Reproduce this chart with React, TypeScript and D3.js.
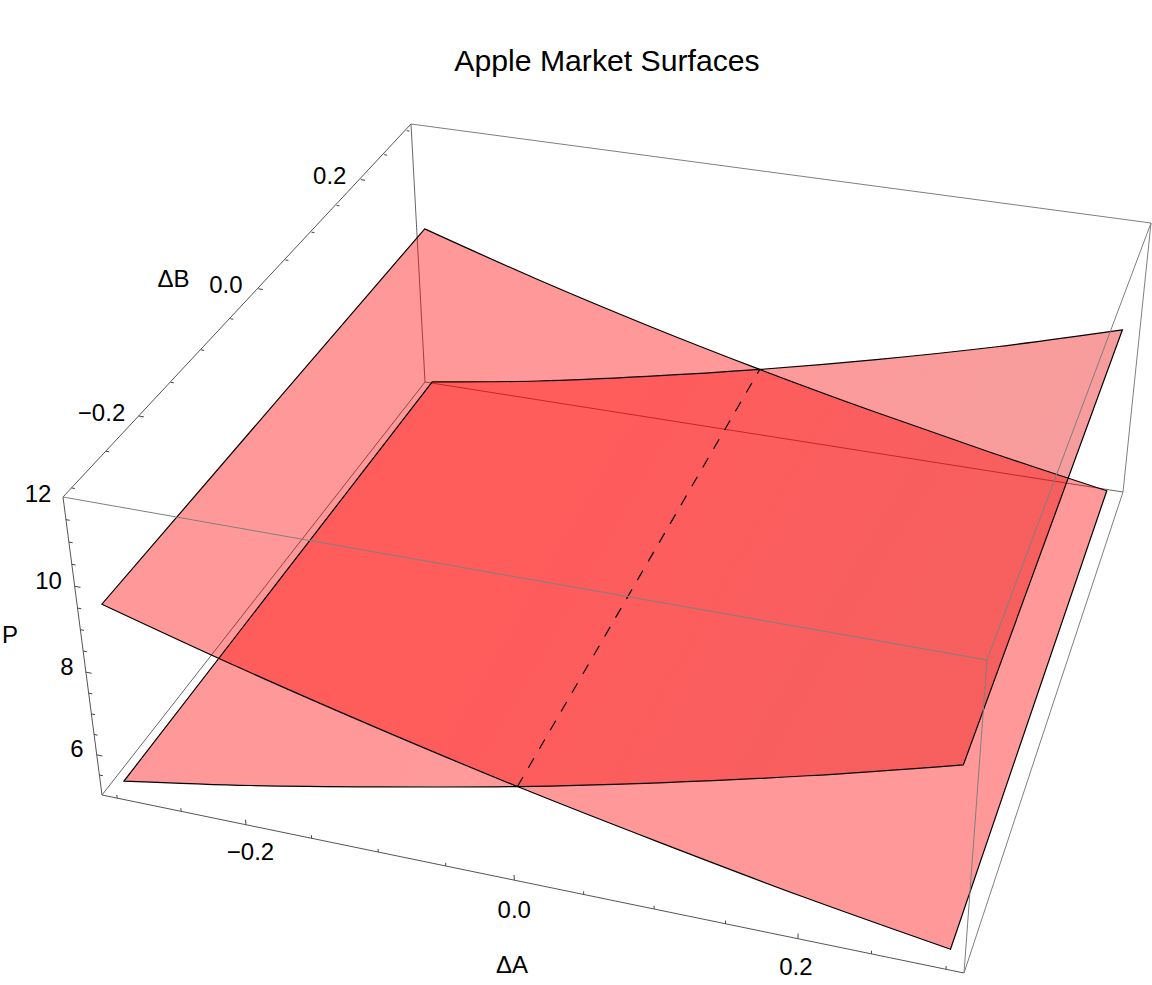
import React from "react";
import * as d3 from "d3";

const title = "Apple Market Surfaces";
// Surface samples: price read at each change in A, along the front (dB = -0.3) and back (dB = +0.3) edges.
const deltaASamples = [-0.3, -0.2, -0.1, 0, 0.1, 0.2, 0.3];
const deltaBEdges = [-0.3, 0.3];
const demandFront = [9.44, 8.55, 7.74, 7.0, 6.34, 5.73, 5.2];
const demandBack = [9.47, 8.56, 7.74, 7.0, 6.33, 5.72, 5.17];
const supplyFront = [5.18, 5.72, 6.34, 7.0, 7.74, 8.55, 9.44];
const supplyBack = [5.24, 5.74, 6.34, 7.0, 7.73, 8.53, 9.42];
const equilibriumPrice = 7.0;

const abMajorTicks = [-0.2, 0, 0.2];
const abMinorTicks = [-0.3, -0.25, -0.15, -0.1, -0.05, 0.05, 0.1, 0.15, 0.25, 0.3];
const pMajorTicks = [6, 8, 10, 12];
const pMinorTicks = [5.5, 6.5, 7, 7.5, 8.5, 9, 9.5, 10.5, 11, 11.5];

const domainAB: [number, number] = [-0.312, 0.312];
const domainP: [number, number] = [5, 12];

// Pixel positions of the bounding box corners, fixing the perspective camera.
const c000 = [102, 795];
const c100 = [964, 973];
const c010 = [425, 382];
const c110 = [1123, 492];
const c001 = [63, 497];
const c101 = [987, 660];
const c011 = [411, 124];
const c111 = [1151, 223];

function perspectiveTerms(p0: number[], p1: number[], p2: number[], p3: number[]) {
  const dx1 = p1[0] - p2[0], dx2 = p3[0] - p2[0], sx = p0[0] - p1[0] + p2[0] - p3[0];
  const dy1 = p1[1] - p2[1], dy2 = p3[1] - p2[1], sy = p0[1] - p1[1] + p2[1] - p3[1];
  const den = dx1 * dy2 - dx2 * dy1;
  return [(sx * dy2 - dx2 * sy) / den, (dx1 * sy - sx * dy1) / den];
}
const [ka, kb] = perspectiveTerms(c000, c100, c110, c010);
const [, kc] = perspectiveTerms(c000, c100, c101, c001);

const scaleU = d3.scaleLinear().domain(domainAB).range([0, 1]);
const scaleV = d3.scaleLinear().domain(domainAB).range([0, 1]);
const scaleW = d3.scaleLinear().domain(domainP).range([0, 1]);

function unitProject(u: number, v: number, w: number): [number, number] {
  const d = 1 + ka * u + kb * v + kc * w;
  const f = (i: number) =>
    (c000[i] +
      u * (c100[i] * (1 + ka) - c000[i]) +
      v * (c010[i] * (1 + kb) - c000[i]) +
      w * (c001[i] * (1 + kc) - c000[i])) / d;
  return [f(0), f(1)];
}
const project = (a: number, b: number, p: number) => unitProject(scaleU(a), scaleV(b), scaleW(p));

const lineGen = d3.line<[number, number]>().curve(d3.curveCatmullRom.alpha(0.5));
const straight = d3.line<[number, number]>();

const edgePts = (b: number, vals: number[]) => deltaASamples.map((a, i) => project(a, b, vals[i]));

function surfacePath(front: number[], back: number[]) {
  const f = lineGen(edgePts(deltaBEdges[0], front))!;
  const bk = lineGen(edgePts(deltaBEdges[1], back).reverse())!;
  return f + "L" + bk.slice(1) + "Z";
}

const demandPath = surfacePath(demandFront, demandBack);
const supplyPath = surfacePath(supplyFront, supplyBack);

const GRAY = "#7f7f7f";
const FILL = "#ff0000";
const font = "'Liberation Sans', Arial, sans-serif";

const uTick = (u: number, v: number, w: number, du: number) =>
  straight([unitProject(u, v, w), unitProject(u + du, v, w)])!;
const wTick = (u: number, v: number, w: number, dw: number) =>
  straight([unitProject(u, v, w), unitProject(u, v, w + dw)])!;

const labelShiftA: Record<string, [number, number]> = { "-0.2": [4.5, 35], "0": [0, 38], "0.2": [-2, 36] };
const labelShiftB: Record<string, [number, number]> = { "-0.2": [-37.4, 5], "0": [-32.4, 4.3], "0.2": [-31, 4.4] };

const fmt = (v: number) => (v < 0 ? "\u2212" : "") + Math.abs(v).toFixed(1);

export default function App() {
  const edge = (a: number[], b: number[], key: string, col = GRAY) => (
    <path key={key} d={straight([a as [number, number], b as [number, number]])!} stroke={col} strokeWidth={1} fill="none" />
  );
  const rearEdges = [
    edge(c000, c010, "e1", "#666"),
    edge(c010, c110, "e2", "#666"),
    edge(c100, c110, "e3"),
    edge(c010, c011, "e4", "#666"),
  ];
  const frontEdges = [
    edge(c000, c100, "f1", "#555"),
    edge(c000, c001, "f2", "#555"),
    edge(c001, c011, "f3", "#555"),
    edge(c001, c101, "f4"),
    edge(c011, c111, "f5"),
    edge(c101, c111, "f6"),
    edge(c100, c101, "f7"),
    edge(c110, c111, "f8"),
  ];
  const tickStroke = "#444";
  const ticks: React.ReactNode[] = [];
  abMajorTicks.forEach((t) => {
    ticks.push(<path key={"am" + t} d={wTick(scaleU(t), 0, 0, 0.018)} stroke={tickStroke} fill="none" />);
    ticks.push(<path key={"bm" + t} d={uTick(0, scaleV(t), 1, 0.006)} stroke={tickStroke} fill="none" />);
  });
  abMinorTicks.forEach((t) => {
    ticks.push(<path key={"an" + t} d={wTick(scaleU(t), 0, 0, 0.011)} stroke={tickStroke} fill="none" />);
    ticks.push(<path key={"bn" + t} d={uTick(0, scaleV(t), 1, 0.004)} stroke={tickStroke} fill="none" />);
  });
  pMajorTicks.filter((t) => t < 12).forEach((t) => {
    ticks.push(<path key={"pm" + t} d={uTick(0, 0, scaleW(t), 0.007)} stroke={tickStroke} fill="none" />);
  });
  pMinorTicks.forEach((t) => {
    ticks.push(<path key={"pn" + t} d={uTick(0, 0, scaleW(t), 0.0045)} stroke={tickStroke} fill="none" />);
  });

  const [dx0, dy0] = project(0, deltaBEdges[0], equilibriumPrice);
  const [dx1, dy1] = project(0, deltaBEdges[1], equilibriumPrice);

  const textProps = { fontFamily: font, fontSize: 24, fill: "#000" };
  return (
    <svg width={1152} height={985} style={{ position: "absolute", left: 0, top: 0, background: "#fff" }}>
      <defs>
        <linearGradient id="shade" gradientUnits="userSpaceOnUse" x1={560} y1={480} x2={908} y2={680}>
          <stop offset="0" stopColor="#ff0000" />
          <stop offset="1" stopColor="#ec0808" />
        </linearGradient>
      </defs>
      {rearEdges}
      <path d={demandPath} fill={FILL} fillOpacity={0.4} />
      <path d={supplyPath} fill="url(#shade)" fillOpacity={0.4} />
      <path d={demandPath} fill="none" stroke="#000" strokeWidth={1.2} />
      <path d={supplyPath} fill="none" stroke="#000" strokeWidth={1.2} />
      <line x1={dx0} y1={dy0} x2={dx1} y2={dy1} stroke="#000" strokeWidth={1.2} strokeDasharray="11 10.7" />
      {frontEdges}
      {ticks}
      <text x={607} y={71} textAnchor="middle" fontFamily={font} fontSize={30.2} fill="#000">{title}</text>
      {abMajorTicks.map((t) => {
        const [x, y] = unitProject(scaleU(t), 0, 0);
        const s = labelShiftA[String(t)];
        return <text key={"la" + t} x={x + s[0]} y={y + s[1]} textAnchor="middle" {...textProps}>{fmt(t)}</text>;
      })}
      {abMajorTicks.map((t) => {
        const [x, y] = unitProject(0, scaleV(t), 1);
        const s = labelShiftB[String(t)];
        return <text key={"lb" + t} x={x + s[0]} y={y + s[1]} textAnchor="middle" {...textProps}>{fmt(t)}</text>;
      })}
      <text x={38} y={502} textAnchor="middle" {...textProps}>12</text>
      <text x={48.5} y={589} textAnchor="middle" {...textProps}>10</text>
      <text x={67} y={675} textAnchor="middle" {...textProps}>8</text>
      <text x={77} y={757} textAnchor="middle" {...textProps}>6</text>
      <text x={10} y={643} textAnchor="middle" {...textProps}>P</text>
      <text x={512} y={973} textAnchor="middle" {...textProps}>ΔA</text>
      <text x={173.5} y={287} textAnchor="middle" {...textProps}>ΔB</text>
    </svg>
  );
}
